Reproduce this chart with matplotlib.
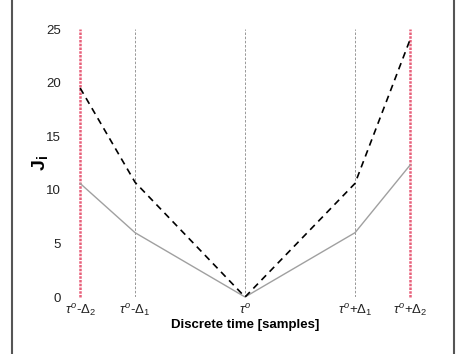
import matplotlib.pyplot as plt
from matplotlib.lines import Line2D

plt.rcParams['font.family'] = ['Liberation Sans', 'DejaVu Sans']
plt.rcParams['mathtext.fontset'] = 'custom'
plt.rcParams['mathtext.rm'] = 'Liberation Sans'
plt.rcParams['mathtext.it'] = 'Liberation Sans:italic'
plt.rcParams['mathtext.bf'] = 'Liberation Sans:bold'

# sample positions (relative to tau^o)
t = [-3, -2, 0, 2, 3]
j_dashed = [19.5, 10.7, 0.0, 10.6, 24.0]
j_solid = [10.6, 6.0, 0.0, 6.0, 12.3]

tick_labels = [r'$\tau^o$-$\Delta_2$', r'$\tau^o$-$\Delta_1$', r'$\tau^o$',
               r'$\tau^o$+$\Delta_1$', r'$\tau^o$+$\Delta_2$']
y_ticks = [0, 5, 10, 15, 20, 25]

fig = plt.figure(figsize=(4.74, 3.54), dpi=100)
ax = fig.add_axes([0.169, 0.161, 0.696, 0.757])

# guide lines
for x in [-2, 0, 2]:
    ax.plot([x, x], [0, 25], color='#888888', lw=0.6, ls=(0, (3, 2)), zorder=1)
for x in [-3, 3]:
    ax.plot([x, x], [0, 25], color='#e8607a', lw=1.8, ls=(0, (1, 0.5)),
            clip_on=False, zorder=1)

ax.plot(t, j_solid, color='#a0a0a0', lw=1.0, clip_on=False, zorder=2)
ax.plot(t, j_dashed, color='black', lw=1.2, ls=(0, (4, 3)), clip_on=False, zorder=3)

ax.set_xlim(-3, 3)
ax.set_ylim(0, 25)
ax.set_xticks(t)
ax.set_xticklabels(tick_labels, fontsize=9.5, color='#222222')
ax.set_yticks(y_ticks)
ax.set_yticklabels([str(v) for v in y_ticks], fontsize=9.5, color='#222222')
ax.tick_params(axis='x', length=0, pad=4)
ax.tick_params(axis='y', length=0, pad=14)
for s in ax.spines.values():
    s.set_visible(False)

ax.set_xlabel('Discrete time [samples]', fontsize=9.5, fontweight='bold', labelpad=0)
ax.set_ylabel(r'$\mathbf{J_i}$', fontsize=14, labelpad=-3)

# outer frame lines
fig.add_artist(Line2D([12 / 474, 12 / 474], [0, 1], color='#555555', lw=1.5))
fig.add_artist(Line2D([454 / 474, 454 / 474], [0, 1], color='#555555', lw=1.5))

fig.savefig('out.png', dpi=100)
